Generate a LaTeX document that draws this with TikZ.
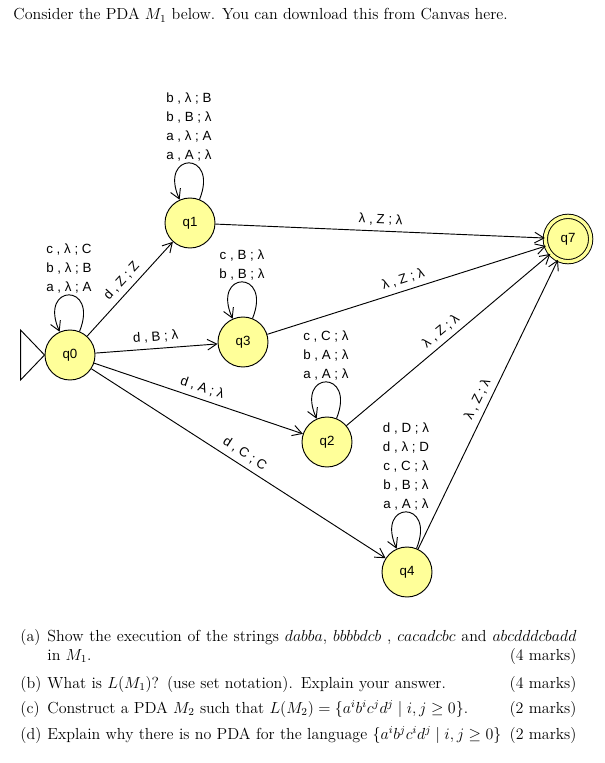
\documentclass[tikz,border=0pt]{standalone}
\usepackage{fontspec}
\usepackage{amsmath}
\usetikzlibrary{arrows.meta}
\newfontfamily\jflapfont{Liberation Sans}
\definecolor{stateyellow}{RGB}{255,255,153}
\tikzset{>={Straight Barb[length=7pt,width=8pt]}}
\tikzset{state/.style={circle,draw,fill=stateyellow,minimum size=37.5pt,inner sep=0pt,
    font=\jflapfont\fontsize{10}{12}\selectfont},
  trans/.style={font=\jflapfont\fontsize{10}{14.25}\selectfont,align=center,inner sep=1pt},
  edgelabel/.style={trans,above=3pt,sloped},
  selfloop/.style={out=68,in=114,looseness=6.8},
  question/.style={font=\fontsize{12}{14.5}\selectfont,inner sep=0pt,anchor=base west}}

\begin{document}
\begin{tikzpicture}[x=0.75pt,y=0.75pt,line width=0.7pt]
\useasboundingbox (0,0) rectangle (605,-763);
\node[question] (intro) at (13,-20) {Consider the PDA $M_1$ below. You can download this from Canvas here.};
% states
\node[state] (q0) at (70,-355) {q0};
\node[state] (q1) at (190,-223) {q1};
\node[state] (q3) at (243,-342) {q3};
\node[state] (q2) at (327,-442) {q2};
\node[state] (q4) at (407,-572) {q4};
\node[state,minimum size=34pt,double=stateyellow,double distance=2.5pt] (q7) at (568,-239) {q7};
\draw (q0.west) -- ++(-24,25) -- ++(0,-50) -- cycle;
% self loops
\draw[->] (q0) to[selfloop] node[trans,above] {c , λ ; C\\b , λ ; B\\a , λ ; A} (q0);
\draw[->] (q1) to[selfloop] node[trans,above] {b , λ ; B\\b , B ; λ\\a , λ ; A\\a , A ; λ} (q1);
\draw[->] (q3) to[selfloop] node[trans,above] {c , B ; λ\\b , B ; λ} (q3);
\draw[->] (q2) to[selfloop] node[trans,above] {c , C ; λ\\b , A ; λ\\a , A ; λ} (q2);
\draw[->] (q4) to[selfloop] node[trans,above] {d , D ; λ\\d , λ ; D\\c , C ; λ\\b , B ; λ\\a , A ; λ} (q4);
% transitions
\draw[->] (q0) -- node[edgelabel] {d , Z ; Z} (q1);
\draw[->] (q0) -- node[edgelabel] {d , B ; λ} (q3);
\draw[->] (q0) -- node[edgelabel] {d , A ; λ} (q2);
\draw[->] (q0) -- node[edgelabel] {d , C ; C} (q4);
\draw[->] (q1) -- node[edgelabel] {λ , Z ; λ} (q7);
\draw[->] (q3) -- node[edgelabel] {λ , Z ; λ} (q7);
\draw[->] (q2) -- node[edgelabel] {λ , Z ; λ} (q7);
\draw[->] (q4) -- node[edgelabel] {λ , Z ; λ} (q7);
% questions
\node[question] (la) at (20,-641) {(a)};
\node[question,text width=396.75pt,align=justify] (qa) at (47,-641)
  {Show the execution of the strings $dabba$, $bbbbdcb$ , $cacadcbc$ and $abcdddcbadd$\linebreak
   in $M_1$.\hfill(4 marks)};
\node[question] (lb) at (20,-688) {(b)};
\node[question,text width=396.75pt] (qb) at (47,-688)
  {What is $L(M_1)$? (use set notation). Explain your answer.\hfill(4 marks)};
\node[question] (lc) at (20,-713) {(c)};
\node[question,text width=396.75pt] (qc) at (47,-713)
  {Construct a PDA $M_2$ such that $L(M_2)=\{a^ib^ic^jd^j \mid i,j\geq 0\}$.\hfill(2 marks)};
\node[question] (ld) at (20,-739) {(d)};
\node[question,text width=396.75pt] (qd) at (47,-739)
  {Explain why there is no PDA for the language $\{a^ib^jc^id^j \mid i,j\geq 0\}$\hfill(2 marks)};
\end{tikzpicture}
\end{document}
